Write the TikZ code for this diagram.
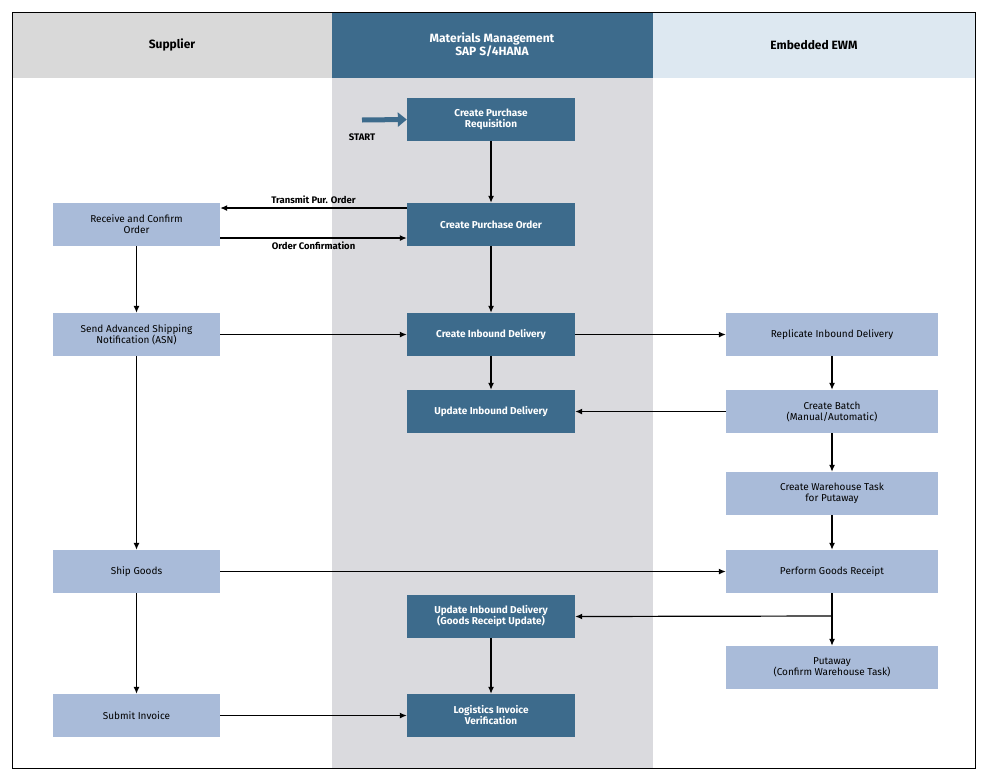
\documentclass[tikz,border=0pt]{standalone}
\usepackage{fontspec}
\setmainfont{Fira Sans}
\usetikzlibrary{arrows.meta}
\definecolor{dblue}{HTML}{3D6B8C}
\definecolor{lblue}{HTML}{A9BBD9}
\definecolor{hgray}{HTML}{D9D9D9}
\definecolor{mgray}{HTML}{DADADE}
\definecolor{hblue}{HTML}{DDE8F1}
\begin{document}
\begin{tikzpicture}[x=1pt,y=-1pt,
 mbox/.style={fill=dblue,draw=none,text=white,font=\fontsize{10}{11}\selectfont\bfseries,minimum width=168pt,minimum height=43pt,align=center,inner sep=1pt},
 sbox/.style={fill=lblue,draw=none,text=black,font=\fontsize{10}{11}\selectfont,minimum width=167pt,minimum height=43pt,align=center,inner sep=1pt},
 ebox/.style={sbox,minimum width=212pt},
 hd/.style={font=\fontsize{12}{13}\selectfont\bfseries,align=center},
 arr/.style={-{Latex[length=7pt,width=6pt]},line width=1.2pt},
 lab/.style={font=\fontsize{9.5}{10}\selectfont\bfseries}]
\useasboundingbox (0,0) rectangle (987,782);
\fill[white] (12,12) rectangle (975,768);
\fill[hgray] (12,12) rectangle (332,78);
\fill[dblue] (332,12) rectangle (653,78);
\fill[hblue] (653,12) rectangle (975,78);
\fill[mgray] (332,78) rectangle (653,768);
\draw[line width=0.8pt] (12,12) rectangle (975,768);
\node[hd] at (172,45) {Supplier};
\node[hd,text=white] at (492,45) {Materials Management\\SAP S/4HANA};
\node[hd] at (814,45) {Embedded EWM};
% middle
\node[mbox] (pr) at (491,119.5) {Create Purchase\\Requisition};
\node[mbox] (po) at (491,224.5) {Create Purchase Order};
\node[mbox] (cid) at (491,334.5) {Create Inbound Delivery};
\node[mbox] (uid) at (491,411.5) {Update Inbound Delivery};
\node[mbox] (uid2) at (491,616.5) {Update Inbound Delivery\\(Goods Receipt Update)};
\node[mbox] (liv) at (491,715.5) {Logistics Invoice\\Verification};
% left
\node[sbox] (rco) at (136.5,224.5) {Receive and Confirm\\Order};
\node[sbox] (asn) at (136.5,334.5) {Send Advanced Shipping\\Notification (ASN)};
\node[sbox] (ship) at (136.5,571.5) {Ship Goods};
\node[sbox] (inv) at (136.5,715.5) {Submit Invoice};
% right
\node[ebox] (rid) at (832,334.5) {Replicate Inbound Delivery};
\node[ebox] (bat) at (832,411.5) {Create Batch\\(Manual/Automatic)};
\node[ebox] (wt) at (832,493.5) {Create Warehouse Task\\for Putaway};
\node[ebox] (pgr) at (832,571.5) {Perform Goods Receipt};
\node[ebox] (put) at (832,667.5) {Putaway\\(Confirm Warehouse Task)};
% start
\coordinate (st) at (362,120);
\draw[-{Triangle[length=9pt,width=14pt]},line width=5pt,dblue] (st) -- (pr.west);
\node[lab,anchor=north] at (362,130) {START};
\draw[arr] (pr) -- (po);
\draw[arr] (po.west|-0,208) -- node[lab,above]{Transmit Pur. Order} (rco.east|-0,208);
\draw[arr] (rco.east|-0,238) -- node[lab,below]{Order Confirmation} (po.west|-0,238);
\draw[arr] (po) -- (cid);
\draw[arr] (rco) -- (asn);
\draw[arr] (asn) -- (cid);
\draw[arr] (cid) -- (rid);
\draw[arr] (cid) -- (uid);
\draw[arr] (rid) -- (bat);
\draw[arr] (bat) -- (uid);
\draw[arr] (bat) -- (wt);
\draw[arr] (wt) -- (pgr);
\draw[arr] (asn) -- (ship);
\draw[arr] (ship) -- (pgr);
\draw[arr] (pgr.south) -- (832,616) -- (uid2.east);
\draw[arr] (pgr) -- (put);
\draw[arr] (uid2) -- (liv);
\draw[arr] (ship) -- (inv);
\draw[arr] (inv) -- (liv);
\end{tikzpicture}
\end{document}
